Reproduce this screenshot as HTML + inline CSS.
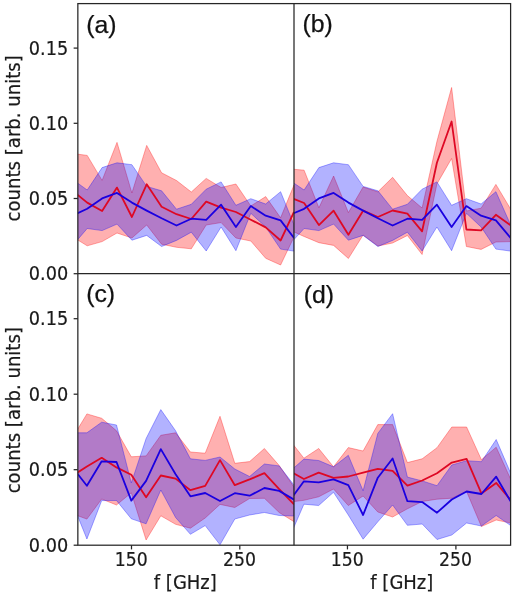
<!DOCTYPE html>
<html><head><meta charset="utf-8"><title>spectra</title>
<style>
html,body{margin:0;padding:0;background:#fff;}
body{width:520px;height:597px;overflow:hidden;}
svg{display:block;}
.t{font-family:"DejaVu Sans","Liberation Sans",sans-serif;font-size:18px;fill:#1a1a1a;stroke:#1a1a1a;stroke-width:0.2px;}
.p{font-family:"Liberation Sans",sans-serif;font-size:24.8px;fill:#111;stroke:#111;stroke-width:0.25px;}
</style></head><body>
<svg width="520" height="597" viewBox="0 0 520 597">
<rect width="520" height="597" fill="#fff"/>
<defs>

<clipPath id="ca"><rect x="77.85" y="3.6" width="216.15" height="270.09999999999997"/></clipPath>
<clipPath id="cb"><rect x="294.0" y="3.6" width="216.60000000000002" height="270.09999999999997"/></clipPath>
<clipPath id="cc"><rect x="77.85" y="273.7" width="216.15" height="271.50000000000006"/></clipPath>
<clipPath id="cd"><rect x="294.0" y="273.7" width="216.60000000000002" height="271.50000000000006"/></clipPath>
</defs>
<g clip-path="url(#ca)">
<polygon points="72.4,153.5 87.2,155.4 102.1,180.4 117.0,142.4 131.9,193.0 146.7,145.4 161.6,172.8 176.5,180.5 191.3,192.0 206.2,178.4 221.1,187.5 235.9,184.0 250.8,206.0 265.7,196.6 280.6,217.8 294.0,185.0 294.0,237.0 280.6,265.0 265.7,258.3 250.8,241.0 235.9,238.0 221.1,222.6 206.2,225.0 191.3,248.8 176.5,247.3 161.6,244.2 146.7,225.0 131.9,238.0 117.0,233.0 102.1,241.6 87.2,245.8 72.4,236.7" fill="#ff0000" fill-opacity="0.31" stroke="#ff0000" stroke-opacity="0.33" stroke-width="1"/>
<polygon points="72.4,179.3 87.2,190.0 102.1,167.6 117.0,162.8 131.9,164.7 146.7,186.4 161.6,190.8 176.5,209.2 191.3,204.3 206.2,189.2 221.1,181.9 235.9,205.3 250.8,198.7 265.7,204.0 280.6,191.7 294.0,224.8 294.0,251.1 280.6,249.1 265.7,227.0 250.8,213.3 235.9,250.7 221.1,227.0 206.2,251.0 191.3,232.2 176.5,240.4 161.6,246.5 146.7,235.4 131.9,240.2 117.0,224.1 102.1,230.6 87.2,228.5 72.4,245.8" fill="#0000ff" fill-opacity="0.30" stroke="#0000ff" stroke-opacity="0.33" stroke-width="1"/>
<polyline points="72.4,190.6 87.2,202.6 102.1,211.0 117.0,187.6 131.9,217.0 146.7,184.3 161.6,206.7 176.5,214.2 191.3,219.0 206.2,201.7 221.1,207.6 235.9,212.0 250.8,219.7 265.7,227.4 280.6,240.5 294.0,212.0" fill="none" stroke="#de0824" stroke-width="1.8" stroke-linejoin="round"/>
<polyline points="72.4,215.6 87.2,208.8 102.1,198.4 117.0,192.9 131.9,202.6 146.7,210.6 161.6,218.3 176.5,225.5 191.3,218.7 206.2,219.8 221.1,204.7 235.9,227.0 250.8,206.1 265.7,215.7 280.6,220.4 294.0,237.9" fill="none" stroke="#1a00e0" stroke-width="1.8" stroke-linejoin="round"/>
</g>
<g clip-path="url(#cb)">
<polygon points="289.4,168.9 304.1,170.2 318.9,207.8 333.6,176.0 348.4,212.6 363.1,187.0 377.9,191.8 392.6,177.3 407.4,195.6 422.1,208.0 436.9,141.5 451.6,87.5 466.4,211.0 481.1,208.2 495.9,184.4 510.6,209.0 510.6,241.6 495.9,242.0 481.1,249.4 466.4,246.5 451.6,158.5 436.9,184.0 422.1,254.5 407.4,235.5 392.6,243.0 377.9,246.0 363.1,235.0 348.4,258.5 333.6,245.4 318.9,242.7 304.1,236.5 289.4,229.9" fill="#ff0000" fill-opacity="0.31" stroke="#ff0000" stroke-opacity="0.33" stroke-width="1"/>
<polygon points="289.4,180.1 304.1,190.0 318.9,167.6 333.6,162.8 348.4,164.7 363.1,186.4 377.9,190.8 392.6,209.2 407.4,204.3 422.1,189.2 436.9,181.9 451.6,205.3 466.4,198.7 481.1,204.0 495.9,191.7 510.6,224.8 510.6,251.1 495.9,249.1 481.1,227.0 466.4,213.3 451.6,250.7 436.9,227.0 422.1,251.0 407.4,232.2 392.6,240.4 377.9,246.5 363.1,235.4 348.4,240.2 333.6,224.1 318.9,230.6 304.1,228.5 289.4,244.6" fill="#0000ff" fill-opacity="0.30" stroke="#0000ff" stroke-opacity="0.33" stroke-width="1"/>
<polyline points="289.4,197.3 304.1,203.0 318.9,225.1 333.6,210.7 348.4,234.8 363.1,210.7 377.9,217.0 392.6,210.5 407.4,213.6 422.1,231.3 436.9,162.7 451.6,121.5 466.4,229.5 481.1,230.4 495.9,214.8 510.6,225.3" fill="none" stroke="#de0824" stroke-width="1.8" stroke-linejoin="round"/>
<polyline points="289.4,215.1 304.1,208.8 318.9,198.4 333.6,192.9 348.4,202.6 363.1,210.6 377.9,218.3 392.6,225.5 407.4,218.7 422.1,219.8 436.9,204.7 451.6,227.0 466.4,206.1 481.1,215.7 495.9,220.4 510.6,237.9" fill="none" stroke="#1a00e0" stroke-width="1.8" stroke-linejoin="round"/>
</g>
<g clip-path="url(#cc)">
<polygon points="72.1,438.4 86.9,413.9 101.7,418.3 116.5,430.8 131.3,456.8 146.1,455.9 160.8,435.3 175.6,432.8 190.4,452.0 205.2,453.2 220.0,416.3 234.8,463.3 249.6,461.6 264.4,448.5 279.2,465.5 294.0,487.1 294.0,521.7 279.2,512.5 264.4,498.3 249.6,498.5 234.8,507.5 220.0,504.4 205.2,518.0 190.4,528.2 175.6,524.3 160.8,515.8 146.1,540.0 131.3,492.8 116.5,505.0 101.7,499.0 86.9,519.1 72.1,513.6" fill="#ff0000" fill-opacity="0.31" stroke="#ff0000" stroke-opacity="0.33" stroke-width="1"/>
<polygon points="72.1,432.8 86.9,432.8 101.7,422.2 116.5,425.0 131.3,482.9 146.1,438.5 160.8,409.6 175.6,430.8 190.4,458.8 205.2,460.4 220.0,457.0 234.8,469.0 249.6,476.5 264.4,464.0 279.2,465.9 294.0,485.1 294.0,516.0 279.2,515.5 264.4,512.5 249.6,515.0 234.8,519.0 220.0,544.8 205.2,525.6 190.4,534.3 175.6,517.5 160.8,490.0 146.1,523.8 131.3,518.8 116.5,500.5 101.7,500.6 86.9,539.0 72.1,502.3" fill="#0000ff" fill-opacity="0.30" stroke="#0000ff" stroke-opacity="0.33" stroke-width="1"/>
<polyline points="72.1,476.0 86.9,466.5 101.7,457.8 116.5,467.4 131.3,474.8 146.1,497.3 160.8,475.5 175.6,478.6 190.4,490.2 205.2,485.9 220.0,460.1 234.8,485.2 249.6,479.4 264.4,473.2 279.2,489.2 294.0,504.4" fill="none" stroke="#de0824" stroke-width="1.8" stroke-linejoin="round"/>
<polyline points="72.1,466.9 86.9,485.7 101.7,461.3 116.5,462.0 131.3,500.6 146.1,480.9 160.8,449.1 175.6,474.2 190.4,496.3 205.2,493.0 220.0,501.0 234.8,493.2 249.6,495.7 264.4,488.0 279.2,490.9 294.0,499.6" fill="none" stroke="#1a00e0" stroke-width="1.8" stroke-linejoin="round"/>
</g>
<g clip-path="url(#cd)">
<polygon points="289.1,439.3 303.9,458.2 318.7,448.5 333.5,466.8 348.3,447.6 363.1,451.0 377.8,424.6 392.6,424.6 407.4,462.6 422.2,458.8 437.0,447.7 451.8,427.0 466.6,427.0 481.4,459.7 496.2,447.2 510.6,479.0 510.6,523.0 496.2,520.0 481.4,526.5 466.6,491.5 451.8,498.2 437.0,499.2 422.2,501.5 407.4,508.8 392.6,517.0 377.8,512.0 363.1,496.0 348.3,505.5 333.5,489.0 318.7,496.8 303.9,500.3 289.1,502.2" fill="#ff0000" fill-opacity="0.31" stroke="#ff0000" stroke-opacity="0.33" stroke-width="1"/>
<polygon points="289.1,472.1 303.9,459.1 318.7,460.5 333.5,466.8 348.3,455.3 363.1,490.8 377.8,433.4 392.6,413.7 407.4,477.1 422.2,480.9 437.0,485.7 451.8,465.0 466.6,460.7 481.4,461.7 496.2,439.5 510.6,473.0 510.6,525.5 496.2,515.5 481.4,526.0 466.6,523.0 451.8,535.0 437.0,539.5 422.2,524.0 407.4,525.3 392.6,505.0 377.8,521.8 363.1,539.2 348.3,515.0 333.5,492.3 318.7,505.5 303.9,504.2 289.1,538.4" fill="#0000ff" fill-opacity="0.30" stroke="#0000ff" stroke-opacity="0.33" stroke-width="1"/>
<polyline points="289.1,470.9 303.9,479.0 318.7,472.6 333.5,477.8 348.3,476.5 363.1,472.7 377.8,468.9 392.6,470.8 407.4,485.7 422.2,480.5 437.0,473.2 451.8,462.6 466.6,458.8 481.4,493.4 496.2,482.9 510.6,500.0" fill="none" stroke="#de0824" stroke-width="1.8" stroke-linejoin="round"/>
<polyline points="289.1,501.5 303.9,481.3 318.7,482.3 333.5,479.4 348.3,485.1 363.1,515.0 377.8,477.7 392.6,458.5 407.4,501.2 422.2,502.1 437.0,512.7 451.8,499.5 466.6,491.5 481.4,494.0 496.2,476.7 510.6,501.2" fill="none" stroke="#1a00e0" stroke-width="1.8" stroke-linejoin="round"/>
</g>
<g fill="none" stroke="#262626" stroke-width="1.25">
<rect x="77.85" y="3.6" width="432.75" height="541.6"/>
<line x1="294.0" y1="3.6" x2="294.0" y2="545.2"/>
<line x1="77.85" y1="273.7" x2="510.6" y2="273.7"/>
<line x1="73.64999999999999" y1="273.7" x2="77.85" y2="273.7"/>
<line x1="73.64999999999999" y1="198.5" x2="77.85" y2="198.5"/>
<line x1="73.64999999999999" y1="123.3" x2="77.85" y2="123.3"/>
<line x1="73.64999999999999" y1="48.1" x2="77.85" y2="48.1"/>
<line x1="73.64999999999999" y1="545.2" x2="77.85" y2="545.2"/>
<line x1="73.64999999999999" y1="469.7" x2="77.85" y2="469.7"/>
<line x1="73.64999999999999" y1="394.2" x2="77.85" y2="394.2"/>
<line x1="73.64999999999999" y1="318.7" x2="77.85" y2="318.7"/>
<line x1="131.5" y1="545.2" x2="131.5" y2="549.4000000000001"/>
<line x1="239.8" y1="545.2" x2="239.8" y2="549.4000000000001"/>
<line x1="347.45" y1="545.2" x2="347.45" y2="549.4000000000001"/>
<line x1="455.9" y1="545.2" x2="455.9" y2="549.4000000000001"/>
</g>
<text class="t" transform="translate(68.2,280.1) scale(0.985,1.035)" text-anchor="end">0.00</text>
<text class="t" transform="translate(68.2,204.9) scale(0.985,1.035)" text-anchor="end">0.05</text>
<text class="t" transform="translate(68.2,129.7) scale(0.985,1.035)" text-anchor="end">0.10</text>
<text class="t" transform="translate(68.2,54.5) scale(0.985,1.035)" text-anchor="end">0.15</text>
<text class="t" transform="translate(68.2,551.6) scale(0.985,1.035)" text-anchor="end">0.00</text>
<text class="t" transform="translate(68.2,476.1) scale(0.985,1.035)" text-anchor="end">0.05</text>
<text class="t" transform="translate(68.2,400.6) scale(0.985,1.035)" text-anchor="end">0.10</text>
<text class="t" transform="translate(68.2,325.1) scale(0.985,1.035)" text-anchor="end">0.15</text>
<text class="t" transform="translate(131.2,566.4) scale(0.96,1.035)" text-anchor="middle">150</text>
<text class="t" transform="translate(239.5,566.4) scale(0.96,1.035)" text-anchor="middle">250</text>
<text class="t" transform="translate(347.15,566.4) scale(0.96,1.035)" text-anchor="middle">150</text>
<text class="t" transform="translate(455.59999999999997,566.4) scale(0.96,1.035)" text-anchor="middle">250</text>
<text class="t" transform="translate(185.3,589.1) scale(1.0,1.035)" text-anchor="middle">f [GHz]</text>
<text class="t" transform="translate(401.8,589.1) scale(1.0,1.035)" text-anchor="middle">f [GHz]</text>
<text class="t" transform="translate(19.9,138.3) rotate(-90) scale(1.005,1.035)" text-anchor="middle">counts [arb. units]</text>
<text class="t" transform="translate(19.9,410.2) rotate(-90) scale(1.005,1.035)" text-anchor="middle">counts [arb. units]</text>
<text class="p" x="86.3" y="32.6">(a)</text>
<text class="p" x="302.4" y="32.0">(b)</text>
<text class="p" x="86.2" y="302.2">(c)</text>
<text class="p" x="303.7" y="302.6">(d)</text>
</svg></body></html>
